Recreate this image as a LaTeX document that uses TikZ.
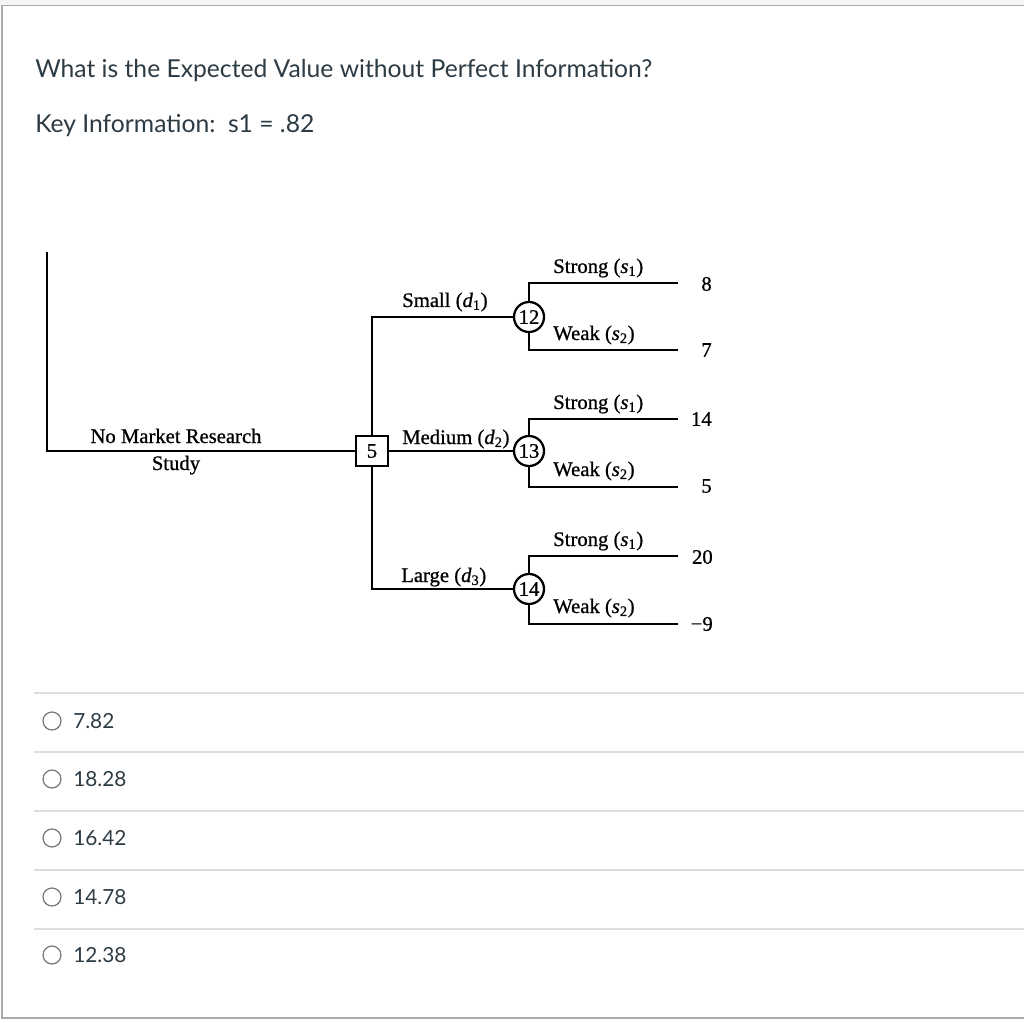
\documentclass[tikz,border=0pt]{standalone}
\usepackage{fontspec}
\setmainfont{Liberation Serif}
\newfontfamily\treefont[FakeBold=0.8, ItalicFeatures={FakeBold=0.8}]{Liberation Serif}
\newfontfamily\lato{Lato}
\definecolor{canvastext}{HTML}{2D3B45}
\definecolor{sepgray}{HTML}{DDDDDD}
\definecolor{framegray}{HTML}{AAAAAA}
\definecolor{bandgray}{HTML}{F4F4F4}
\definecolor{radiogray}{HTML}{777777}
\begin{document}
\begin{tikzpicture}[x=0.75pt,y=-0.75pt,
  treeline/.style={line width=2.1pt, line join=miter},
  treetext/.style={inner sep=0pt, font=\treefont\fontsize{15.5}{18}\selectfont},
  valtext/.style={inner sep=0pt, anchor=east, font=\treefont\fontsize{15.5}{18}\selectfont},
  chance/.style={circle, draw, line width=1.7pt, minimum size=22.5pt, inner sep=0pt, font=\treefont\fontsize{15.5}{18}\selectfont},
  decision/.style={rectangle, draw, line width=1.7pt, minimum width=23.5pt, minimum height=23pt, inner sep=0pt, font=\treefont\fontsize{15.5}{18}\selectfont},
  qtext/.style={inner sep=0pt, anchor=base west, text=canvastext, font=\lato\fontsize{18.5}{22}\selectfont},
  anstext/.style={inner sep=0pt, anchor=west, text=canvastext, font=\lato\fontsize{15.6}{18}\selectfont},
  radio/.style={circle, draw=radiogray, line width=0.9pt, minimum size=13.5pt, inner sep=0pt},
  sep/.style={draw=sepgray, line width=1pt}]
\useasboundingbox (0,0) rectangle (1024,1023);
\fill[white] (0,0) rectangle (1024,1023);
% frame
\fill[bandgray] (0,0) rectangle (1024,5.5);
\draw[framegray, line width=1pt] (2,5.5) -- (1024,5.5);
\draw[framegray, line width=1pt] (2,5.5) -- (2,1018) -- (1024,1018);
% question
\node[qtext] (q1) at (35,78) {What is the Expected Value without Perfect Information?};
\node[qtext] (q2) at (35,133) {Key Information:\ \ s1 = .82};
% tree coordinates
\coordinate (top) at (47,252);
\coordinate (corner) at (47,451);
\node[decision] (sq) at (372,451) {5};
\coordinate (up) at (372,317);
\coordinate (down) at (372,589);
\node[chance] (c12) at (529,317) {12};
\node[chance] (c13) at (529,451) {13};
\node[chance] (c14) at (529,589) {14};
\coordinate (s12) at (529,283); \coordinate (s12e) at (678,283);
\coordinate (w12) at (529,350); \coordinate (w12e) at (678,350);
\coordinate (s13) at (529,419); \coordinate (s13e) at (678,419);
\coordinate (w13) at (529,487); \coordinate (w13e) at (678,487);
\coordinate (s14) at (529,556); \coordinate (s14e) at (678,556);
\coordinate (w14) at (529,624); \coordinate (w14e) at (678,624);
% tree lines
\draw[treeline] (top) -- (corner) -- (sq.west);
\draw[treeline] (sq.north) -- (up) -- (c12.west);
\draw[treeline] (sq.east) -- (c13.west);
\draw[treeline] (sq.south) -- (down) -- (c14.west);
\draw[treeline] (c12.north) -- (s12) -- (s12e);
\draw[treeline] (c12.south) -- (w12) -- (w12e);
\draw[treeline] (c13.north) -- (s13) -- (s13e);
\draw[treeline] (c13.south) -- (w13) -- (w13e);
\draw[treeline] (c14.north) -- (s14) -- (s14e);
\draw[treeline] (c14.south) -- (w14) -- (w14e);
% tree labels
\node[treetext, anchor=base] (nm1) at (176,443) {No Market Research};
\node[treetext, anchor=base] (nm2) at (176,470) {Study};
\node[treetext, anchor=base west] (ld1) at (402,307) {Small (\textit{d}\textsubscript{1})};
\node[treetext, anchor=base west] (ld2) at (402,444) {Medium (\textit{d}\textsubscript{2})};
\node[treetext, anchor=base west] (ld3) at (401,582) {Large (\textit{d}\textsubscript{3})};
\node[treetext, anchor=base west] (ls12) at (553,273) {Strong (\textit{s}\textsubscript{1})};
\node[treetext, anchor=base west] (lw12) at (553,340) {Weak (\textit{s}\textsubscript{2})};
\node[treetext, anchor=base west] (ls13) at (553,409) {Strong (\textit{s}\textsubscript{1})};
\node[treetext, anchor=base west] (lw13) at (553,476) {Weak (\textit{s}\textsubscript{2})};
\node[treetext, anchor=base west] (ls14) at (553,546) {Strong (\textit{s}\textsubscript{1})};
\node[treetext, anchor=base west] (lw14) at (553,613) {Weak (\textit{s}\textsubscript{2})};
% values
\node[valtext] (v1) at (712,284) {8};
\node[valtext] (v2) at (712,350) {7};
\node[valtext] (v3) at (712,419) {14};
\node[valtext] (v4) at (712,486) {5};
\node[valtext] (v5) at (713,557) {20};
\node[valtext] (v6) at (713,624) {\textminus 9};
% answers
\draw[sep] (34,693) -- (1024,693);
\draw[sep] (34,752) -- (1024,752);
\draw[sep] (34,811) -- (1024,811);
\draw[sep] (34,870) -- (1024,870);
\draw[sep] (34,929) -- (1024,929);
\node[radio] (r1) at (52,721) {};
\node[radio] (r2) at (52,779) {};
\node[radio] (r3) at (52,838) {};
\node[radio] (r4) at (52,897) {};
\node[radio] (r5) at (52,955) {};
\node[anstext] (a1) at (73,721) {7.82};
\node[anstext] (a2) at (73,779) {18.28};
\node[anstext] (a3) at (73,838) {16.42};
\node[anstext] (a4) at (73,897) {14.78};
\node[anstext] (a5) at (73,955) {12.38};
\end{tikzpicture}
\end{document}
